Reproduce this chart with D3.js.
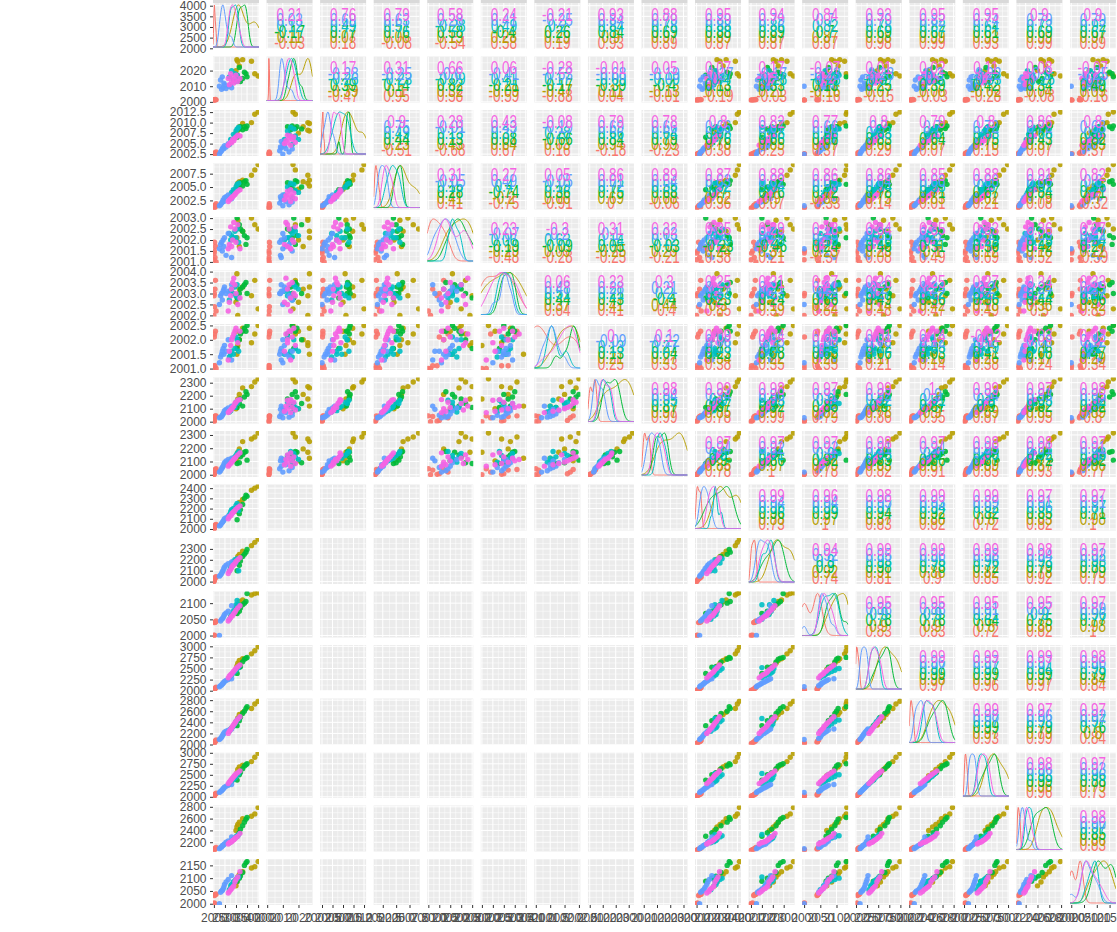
<!DOCTYPE html>
<html><head><meta charset="utf-8">
<script src="https://cdn.jsdelivr.net/npm/d3@7"></script>
<style>html,body{margin:0;padding:0;background:#fff}svg{display:block}</style>
</head><body><svg id="c" width="1117" height="932"></svg>
<script>
// group of each observation, same order in every var array
const groupOf = ["a","a","a","a","a","a","a","b","b","b","b","b","b","b","b","c","c","c","c","c","c","c","d","d","d","d","d","d","d","d","e","e","e","e","e","e","e","e","e","e","f","f","f","f","f","f","f","f","f","f"];
const groupNames = ["a","b","c","d","e","f"];
const groupColours = ["#F8766D","#B79F00","#00BA38","#00BFC4","#619CFF","#F564E3"];

const var1=[2000,2010,2020,2030,2050,2070,2100, 3000,3040,3080,3150,3300,3700,3850,4000, 3050,3150,3200,3300,3380,3450,3500, 2700,2760,2800,2880,2950,3000,3050,3120, 2250,2300,2350,2380,2420,2450,2480,2550,2650,2800, 2650,2700,2760,2800,2850,2900,2950,3000,3080,3180];
const var2=[2001,2001.2,2001,2001.4,2001.1,2001.6,2001.3, 2020,2027,2026,2023,2027,2026,2018,2016.5, 2017,2022,2013,2015,2019,2018,2016, 2016,2011,2020,2014,2018,2013,2017,2015, 2010,2014,2008,2016,2009,2012,2011,2008.5,2010,2009, 2015,2011,2018,2013,2016,2012,2014,2017,2013,2015];
const var3=[2002.4,2002.5,2002.6,2002.7,2002.8,2002.7,2003, 2007.5,2008,2008.2,2009,2009.8,2010,2012,2012.5, 2006.5,2008.5,2009,2008.3,2009,2008.6,2009.2, 2004.8,2006,2006,2007.2,2006.8,2008,2008.5,2008.9, 2002.5,2003,2003.3,2003.7,2004,2003.8,2004.5,2004.2,2005,2005.5, 2004.6,2005,2005.3,2005.2,2006,2005.7,2006.3,2006.6,2007,2006.8];
const var4=[2001,2001.1,2001.2,2001.5,2001.6,2001.3,2001.9, 2004.6,2005.2,2005.7,2006,2006.3,2007.2,2008.2,2009.2, 2004.5,2005,2005.8,2005.2,2006,2006.2,2005.5, 2003,2003.5,2004,2004.5,2004.3,2005,2005.5,2005.7, 2001.5,2001.7,2002,2002.2,2002.6,2002.3,2003,2003.2,2003.5,2002.8, 2002.3,2002.6,2002.8,2003,2003.2,2003.4,2003.6,2003.9,2004.2,2004.5];
const var5=[2001.1,2001.4,2001.5,2001.9,2001.2,2001.7,2001, 2002,2002.1,2002.9,2001.7,2002.4,2003,2002.7,2002.5, 2003,2002.7,2002.5,2002.4,2002.2,2001.8,2002.1, 2002.3,2002,2002.2,2002.1,2002.4,2002.1,2002.5,2001.9, 2001.6,2001.8,2001.9,2001.5,2002,2001.7,2002.1,2001.3,2002.3,2001.2, 2001.6,2001.8,2002.6,2001.7,2002,2002.8,2002.5,2001.9,2002.7,2001.6];
const var6=[2002,2002.9,2003,2002.4,2003.2,2003.6,2002.2, 2002.6,2003.9,2002,2003.2,2003.3,2002.9,2003.6,2002.3, 2002.8,2003,2003.2,2003.3,2003.4,2003.5,2003, 2002.7,2003.1,2003.2,2003,2003.3,2002.9,2003.4,2002.8, 2002.5,2002.9,2003,2002.7,2003.1,2003.2,2003.3,2003,2003.1,2003.4, 2002.2,2002.6,2002.9,2003.2,2003.5,2003.7,2003.4,2003,2002.5,2002.8];
const var7=[2001,2001.1,2002.1,2002.2,2001.1,2002.3,2001, 2002.3,2001.5,2001.8,2002,2002.4,2001.9,2002.2,2002.5, 2001.7,2002,2002.2,2002.3,2002.4,2002.3,2002.5, 2001.4,2001.5,2001.6,2001.5,2001.7,2002.1,2002,2001.6, 2001.2,2001.4,2001.5,2001.6,2001.7,2001.5,2001.8,2001.6,2002,2001.3, 2001.3,2001.6,2001.8,2002,2002.1,2002.2,2002.3,2002.4,2001.9,2002.3];
const var8=[2000,2003,2010,2030,2040,2045,2045, 2100,2120,2175,2210,2260,2270,2305,2330, 2110,2140,2175,2120,2190,2230,2210, 2075,2085,2100,2120,2110,2150,2140,2165, 2030,2035,2040,2050,2060,2070,2085,2095,2105,2120, 2070,2080,2090,2100,2110,2120,2140,2150,2165,2170];
const var9=[2000,2003,2008,2020,2035,2040,2045, 2105,2125,2170,2195,2250,2270,2285,2315, 2085,2090,2135,2150,2170,2175,2110, 2095,2105,2115,2125,2135,2145,2160,2175, 2020,2030,2045,2055,2065,2075,2090,2105,2115,2125, 2065,2075,2085,2095,2105,2115,2125,2135,2150,2165];
const var10=[2000,2003,2010,2020,2030,2040,2045, 2175,2200,2230,2260,2290,2380,2400,2420, 2090,2150,2190,2240,2300,2330,2320, 2140,2170,2190,2200,2180,2230,2250,2180, 2030,2040,2055,2065,2075,2085,2100,2110,2125,2150, 2100,2120,2130,2145,2160,2170,2180,2195,2210,2225];
const var11=[2000,2005,2015,2025,2030,2040,2045, 2170,2205,2230,2250,2280,2330,2360,2390, 2100,2150,2190,2230,2250,2270,2295, 2100,2130,2165,2185,2200,2170,2210,2100, 2050,2060,2075,2090,2100,2120,2135,2150,2165,2180, 2075,2095,2110,2130,2145,2155,2165,2185,2200,2220];
const var12=[2000,2000,2001,2040,2041,2042,2045, 2070,2085,2095,2105,2110,2125,2130,2132, 2068,2075,2085,2095,2100,2105,2130, 2050,2060,2065,2075,2085,2095,2108,2095, 2000,2045,2050,2052,2055,2060,2065,2070,2075,2092, 2045,2050,2055,2060,2062,2068,2072,2078,2085,2092];
const var13=[2000,2010,2015,2030,2045,2060,2080, 2480,2550,2620,2680,2720,2830,2900,2990, 2390,2530,2540,2650,2710,2730,2750, 2290,2330,2360,2400,2430,2460,2500,2520, 2090,2110,2130,2150,2170,2190,2210,2230,2250,2270, 2290,2330,2360,2380,2410,2440,2470,2500,2540,2580];
const var14=[2010,2020,2030,2040,2050,2065,2080, 2350,2420,2480,2540,2580,2650,2730,2780, 2340,2430,2490,2560,2600,2650,2680, 2240,2280,2300,2330,2370,2410,2440,2470, 2090,2110,2130,2160,2180,2200,2220,2240,2260,2280, 2200,2240,2270,2300,2330,2360,2390,2420,2460,2500];
const var15=[2010,2020,2030,2040,2050,2065,2080, 2480,2540,2620,2680,2720,2800,2900,2990, 2380,2500,2550,2640,2700,2730,2750, 2290,2330,2360,2390,2430,2460,2500,2530, 2100,2120,2140,2160,2180,2200,2220,2240,2260,2280, 2300,2340,2370,2400,2430,2460,2490,2520,2550,2590];
const var16=[2060,2065,2075,2080,2090,2100,2110, 2400,2460,2500,2540,2600,2640,2680,2790, 2300,2360,2420,2480,2540,2590,2620, 2190,2210,2230,2250,2270,2290,2310,2330, 2090,2110,2120,2140,2150,2160,2170,2200,2220,2290, 2170,2190,2200,2210,2230,2240,2260,2280,2300,2350];
const var17=[2000,2001,2003,2032,2035,2036,2038, 2070,2085,2105,2115,2125,2140,2145,2165, 2088,2100,2108,2122,2150,2160,2165, 2055,2070,2075,2085,2090,2095,2100,2105, 2000,2045,2050,2052,2058,2065,2075,2085,2095,2110, 2042,2048,2055,2060,2065,2070,2085,2095,2105,2125];
const vars=[var1,var2,var3,var4,var5,var6,var7,var8,var9,var10,var11,var12,var13,var14,var15,var16,var17];

const domains=[[1960,4040],[1999.6,2029],[2002.05,2013],[2000.8,2009.4],[2000.95,2003.05],[2001.95,2004.05],[2000.95,2002.55],[1986,2340],[1983,2330],[1985,2436],[1978,2400],[1994,2136],[1993,3030],[2000,2830],[1973,3018],[2043,2822],[1995,2175]];
const topRowDomain=[1967,4127]; // the first row's y axis sits a little lower than its x axis
const ticks1=[2000,2500,3000,3500,4000], ticks2=[2000,2010,2020], ticks3=[2002.5,2005,2007.5,2010,2012.5], ticks4=[2002.5,2005,2007.5], ticks5=[2001,2001.5,2002,2002.5,2003], ticks6=[2002,2002.5,2003,2003.5,2004], ticks7=[2001,2001.5,2002,2002.5], ticks8=[2000,2100,2200,2300], ticks9=[2000,2100,2200,2300], ticks10=[2000,2100,2200,2300,2400], ticks11=[2000,2100,2200,2300], ticks12=[2000,2050,2100], ticks13=[2000,2250,2500,2750,3000], ticks14=[2000,2200,2400,2600,2800], ticks15=[2000,2250,2500,2750,3000], ticks16=[2200,2400,2600,2800], ticks17=[2000,2050,2100,2150];
const tickLists=[ticks1,ticks2,ticks3,ticks4,ticks5,ticks6,ticks7,ticks8,ticks9,ticks10,ticks11,ticks12,ticks13,ticks14,ticks15,ticks16,ticks17];

// correlation labels, upper triangle read row by row
const corrA=[-.03,.18,-.08,-.54,.58,.19,.93,.89,.87,.87,.87,.98,.99,.93,.99,.89,
-.47,.95,.58,-.59,-.88,.04,-.01,-.19,-.03,-.16,-.15,-.03,-.28,-.08,-.16,
-.51,-.68,.67,.16,-.18,-.23,.38,.25,.37,.29,.07,.15,.07,.37,
.41,-.75,-.91,0,-.06,.36,.07,-.33,.14,.01,.21,.08,-.32,
-.48,-.28,-.25,-.21,.38,.21,-.37,.08,.49,.69,.52,-.59,
.64,.41,-.4,.85,.39,.84,.48,.47,.49,.5,.83,
.25,.33,.38,.35,.35,.21,.14,.38,.24,.34,
.99,.78,.99,.79,.86,.95,.87,.95,.8,
.78,1,.78,.82,.91,.85,.93,.77,
.73,1,.83,.82,.72,.82,1,
.74,.81,.9,.85,.92,.75,
.83,.83,.72,.82,1,
.97,.96,.97,.84,
.93,.99,.84,
.96,.73,
.83];
const corrB=[.11,.07,.06,.13,.28,.29,.9,.97,.89,.87,.87,.98,.99,.93,.99,.97,
-.39,.1,.32,-.09,-.47,.11,-.13,.08,.21,-.16,.07,.06,-.02,.04,.09,
.23,.43,.64,.03,.94,.99,.78,.85,.67,.66,.87,.76,.87,.63,
.41,-.2,.66,.69,.68,.62,.9,.85,.75,.83,.62,.79,.7,
-.29,.09,-.25,.29,.24,.31,.23,.23,.1,.12,.18,.22,
.37,.41,.44,.3,.13,.22,.14,.42,.18,.36,.42,
.21,.27,.34,.22,.28,.17,.26,.26,.17,.29,
.97,.85,.97,.82,.78,.9,.89,.85,.89,
.85,.97,.79,.83,.87,.89,.87,.86,
.88,.97,.87,.88,.8,.83,.98,
.92,.91,.88,.82,.78,.79,
.9,.9,.8,.86,.98,
.98,.97,.97,.84,
.97,.79,.8,
.96,.79,
.86];
const corrC=[-.17,.77,.76,.58,-.4,.26,.84,.69,.88,.89,.7,.69,.67,.61,.69,.67,
.39,.14,.82,-.21,-.17,-.39,-.4,.13,.33,.13,.25,.39,.42,.34,.49,
.44,.13,.08,-.66,.84,.79,.76,.66,.66,.83,.64,.75,.43,.82,
.28,-.74,.36,.75,.68,.7,.76,.72,.78,.71,.67,.84,.71,
-.19,-.09,.05,-.03,-.23,-.46,.24,.48,.31,.36,.42,.27,
.44,.43,-.4,.23,.24,.66,.49,.36,.36,.44,.06,
.13,.04,.23,.08,.65,.06,.03,.41,.08,.47,
.87,.87,.92,.85,.8,.87,.9,.82,.82,
.9,.86,.92,.83,.86,.87,.72,.82,
.96,.99,.94,.92,.82,.85,.71,
.9,.98,.78,.72,.79,.85,
.78,.78,.64,.75,.77,
.99,.99,.99,.79,
.99,.79,.76,
.99,.88,
.85];
const corrD=[.12,.49,.51,-.28,.49,.2,.84,.78,.88,.86,.82,.78,.82,.64,.73,.92,
-.26,-.23,-.09,.41,.17,-.09,-.09,-.4,-.28,-.25,-.37,-.3,-.33,-.25,-.3,
.49,.13,.37,.28,.66,.64,.68,.68,.66,.63,.6,.63,.68,.6,
.15,.4,.19,.72,.55,.52,.64,.58,.64,.55,.6,.62,.56,
.06,.63,.14,.12,.29,.28,.19,.26,.2,.29,.25,.24,
.51,.21,.2,.33,.23,.2,.27,.22,.22,.22,.27,
.13,.27,.13,.1,.08,.12,.03,.19,.1,.2,
.95,.9,.93,.9,.92,.91,.9,.93,.92,
.9,.91,.9,.93,.9,.93,.92,.88,
.96,.95,.97,.94,.92,.96,.87,
.9,.93,.95,.96,.93,.93,
.9,.9,.91,.9,.96,
.97,.97,.94,.95,
.97,.93,.97,
.93,.96,
.97];
const corrE=[.03,.69,.63,.28,.41,-.25,.84,.79,.89,.79,.7,.79,.82,.74,.79,.79,
-.28,-.25,-.6,-.41,-.53,-.68,-.19,-.27,-.17,-.23,-.28,-.3,-.22,-.3,-.25,
.75,-.01,.43,-.19,.69,.66,.66,.67,.66,.7,.7,.72,.72,.68,
-.05,.49,-.05,.61,.54,.63,.62,.65,.64,.66,.66,.66,.6,
-.07,-.2,.1,.03,.2,.25,.15,.25,.22,.2,.25,.22,
.48,.28,.21,.17,.21,.13,.2,.24,.2,.24,.25,
-.09,-.22,.08,.15,.09,.08,.12,.1,.08,.12,
.94,.94,.96,.91,.92,.9,.94,.93,.95,
.94,.92,.92,.91,.94,.95,.91,.91,
.94,.94,.95,.93,.89,.91,.91,
.92,.95,.96,.98,.94,.92,
.88,.88,.91,.87,.89,
.96,.97,.97,.96,
.98,.96,.92,
.96,.93,
.96];
const corrF=[.21,.76,.79,.58,.24,-.21,.93,.88,.95,.94,.84,.93,.95,.95,.9,.9,
.17,.31,.66,.06,-.28,-.01,.05,.07,.17,-.07,.01,.02,.11,.08,-.07,
.9,.28,.43,-.08,.79,.78,.8,.82,.77,.8,.79,.8,.86,.8,
.31,.27,.05,.86,.89,.87,.88,.86,.86,.85,.88,.91,.82,
.23,-.3,.31,.32,.35,.29,.18,.34,.35,.33,.36,.27,
.06,.23,.3,.25,.31,.27,.26,.25,.27,.34,.33,
0,.1,.09,.04,.09,.01,.14,-.02,.03,.02,
.98,.99,.98,.97,.99,1,.99,.97,.98,
.97,.97,.97,.98,.97,.98,.98,.97,
.99,.96,.98,.99,.99,.97,.97,
.94,.99,.99,.99,.98,.97,
.95,.95,.95,.95,.97,
.99,.99,.99,.98,
.99,.97,.97,
.98,.97,
.98];
const corrs=[corrA,corrB,corrC,corrD,corrE,corrF];

const N=17, W=46, H=46;
const panelLeft=i=>213+53.56*i, panelTop=i=>3+53.5*i;
const svg=d3.select("#c");
const defs=svg.append("defs");
const xS=vars.map((v,i)=>d3.scaleLinear().domain(domains[i]).range([0,W]));
const yS=vars.map((v,i)=>d3.scaleLinear().domain(i===0?topRowDomain:domains[i]).range([H,0]));
const colour=d3.scaleOrdinal(groupNames,groupColours);
const stackY=d3.scalePoint([...groupNames].reverse(),[11,39.3]);
const fontFam="'Liberation Sans',Arial,sans-serif";

// strip along the top edge
svg.selectAll("rect.strip").data(d3.range(N)).join("rect").attr("class","strip")
  .attr("x",panelLeft).attr("y",0).attr("width",W).attr("height",3).attr("fill","#d9d9d9");

function kde(values,xs){
  const sorted=[...values].sort(d3.ascending);
  const s=d3.deviation(values)||1, q=(d3.quantile(sorted,.75)-d3.quantile(sorted,.25))/1.34;
  const h=0.9*Math.min(s,q>0?q:s)*Math.pow(values.length,-0.2);
  const d=xs.map(x=>d3.sum(values,v=>Math.exp(-0.5*((x-v)/h)**2)));
  const m=d3.max(d);
  return xs.map((x,i)=>[x,d[i]/m]);
}

let k=0;
const corrIndex={};
for(let r=0;r<N;r++)for(let c=r+1;c<N;c++)corrIndex[r+"_"+c]=k++;

for(let r=0;r<N;r++)for(let c=0;c<N;c++){
  const id="p"+r+"_"+c;
  defs.append("clipPath").attr("id",id).append("rect").attr("width",W).attr("height",H);
  const g=svg.append("g").attr("transform",`translate(${panelLeft(c)},${panelTop(r)})`);
  g.append("rect").attr("width",W).attr("height",H).attr("fill","#ebebeb");
  const inner=g.append("g").attr("clip-path",`url(#${id})`);
  const xt=tickLists[c], yt=tickLists[r];
  const step=a=>a[1]-a[0];
  const minors=(t,dom)=>{const s=step(t)/2,o=[];for(let v=t[0]-s*3;v<=t[t.length-1]+s*3;v+=s*2){if(v>=dom[0]&&v<=dom[1])o.push(v);}return o;};
  inner.selectAll("line.mx").data(minors(xt,domains[c])).join("line").attr("class","mx").attr("x1",d=>xS[c](d)).attr("x2",d=>xS[c](d)).attr("y1",0).attr("y2",H).attr("stroke","#fff").attr("stroke-width",.5);
  inner.selectAll("line.my").data(minors(yt,yS[r].domain())).join("line").attr("class","my").attr("y1",d=>yS[r](d)).attr("y2",d=>yS[r](d)).attr("x1",0).attr("x2",W).attr("stroke","#fff").attr("stroke-width",.5);
  inner.selectAll("line.Mx").data(xt).join("line").attr("class","Mx").attr("x1",d=>xS[c](d)).attr("x2",d=>xS[c](d)).attr("y1",0).attr("y2",H).attr("stroke","#fff").attr("stroke-width",1);
  inner.selectAll("line.My").data(yt).join("line").attr("class","My").attr("y1",d=>yS[r](d)).attr("y2",d=>yS[r](d)).attr("x1",0).attr("x2",W).attr("stroke","#fff").attr("stroke-width",1);

  const blank=(r>=9&&c>=1&&c<=8);
  const hasPoints=(r>c&&!blank)||(c>=9&&r>=1&&r<=8);
  if(r===c){
    const dom=domains[c], xs=d3.range(0,101).map(i=>dom[0]+(dom[1]-dom[0])*i/100);
    const yD=d3.scaleLinear().domain([0,1]).range([H-2,2]);
    const line=d3.line().x(d=>xS[c](d[0])).y(d=>yD(d[1]));
    groupNames.forEach(gn=>{
      const vals=vars[c].filter((v,i)=>groupOf[i]===gn);
      inner.append("path").attr("d",line(kde(vals,xs))).attr("fill","none").attr("stroke",colour(gn)).attr("stroke-width",1);
    });
  }
  if(hasPoints){
    inner.selectAll("circle").data(groupOf.map((gn,i)=>({gn,x:vars[c][i],y:vars[r][i]}))).join("circle")
      .attr("cx",d=>xS[c](d.x)).attr("cy",d=>yS[r](d.y)).attr("r",2.7).attr("fill",d=>colour(d.gn)).attr("fill-opacity",.9);
  }
  if(c>r){
    const idx=corrIndex[r+"_"+c];
    inner.selectAll("text").data(groupNames.map((gn,i)=>({gn,v:corrs[i][idx]}))).join("text")
      .attr("transform",d=>`translate(${W/2},${stackY(d.gn)}) scale(.73,1)`).attr("dy","0.36em").attr("text-anchor","middle")
      .attr("font-family",fontFam).attr("font-size",18.5).attr("fill",d=>colour(d.gn)).text(d=>d.v);
  }
  if(c===0){
    const ax=d3.axisLeft(yS[r]).tickValues(yt).tickSize(3).tickPadding(3.5).tickFormat(d=>(yt.some(v=>v%1!==0))?d.toFixed(1):d);
    const a=g.append("g").call(ax);
    a.select(".domain").remove();
    a.selectAll("line").attr("stroke","#333");
    a.selectAll("text").attr("font-family",fontFam).attr("font-size",12).attr("fill","#4d4d4d");
  }
  if(r===N-1){
    const ax=d3.axisBottom(xS[c]).tickValues(xt).tickSize(3).tickPadding(5).tickFormat(d=>(xt.some(v=>v%1!==0))?d.toFixed(1):d);
    const a=g.append("g").attr("transform",`translate(0,${H})`).call(ax);
    a.select(".domain").remove();
    a.selectAll("line").attr("stroke","#333");
    a.selectAll("text").attr("font-family",fontFam).attr("font-size",12).attr("fill","#4d4d4d");
  }
}
</script></body></html>
